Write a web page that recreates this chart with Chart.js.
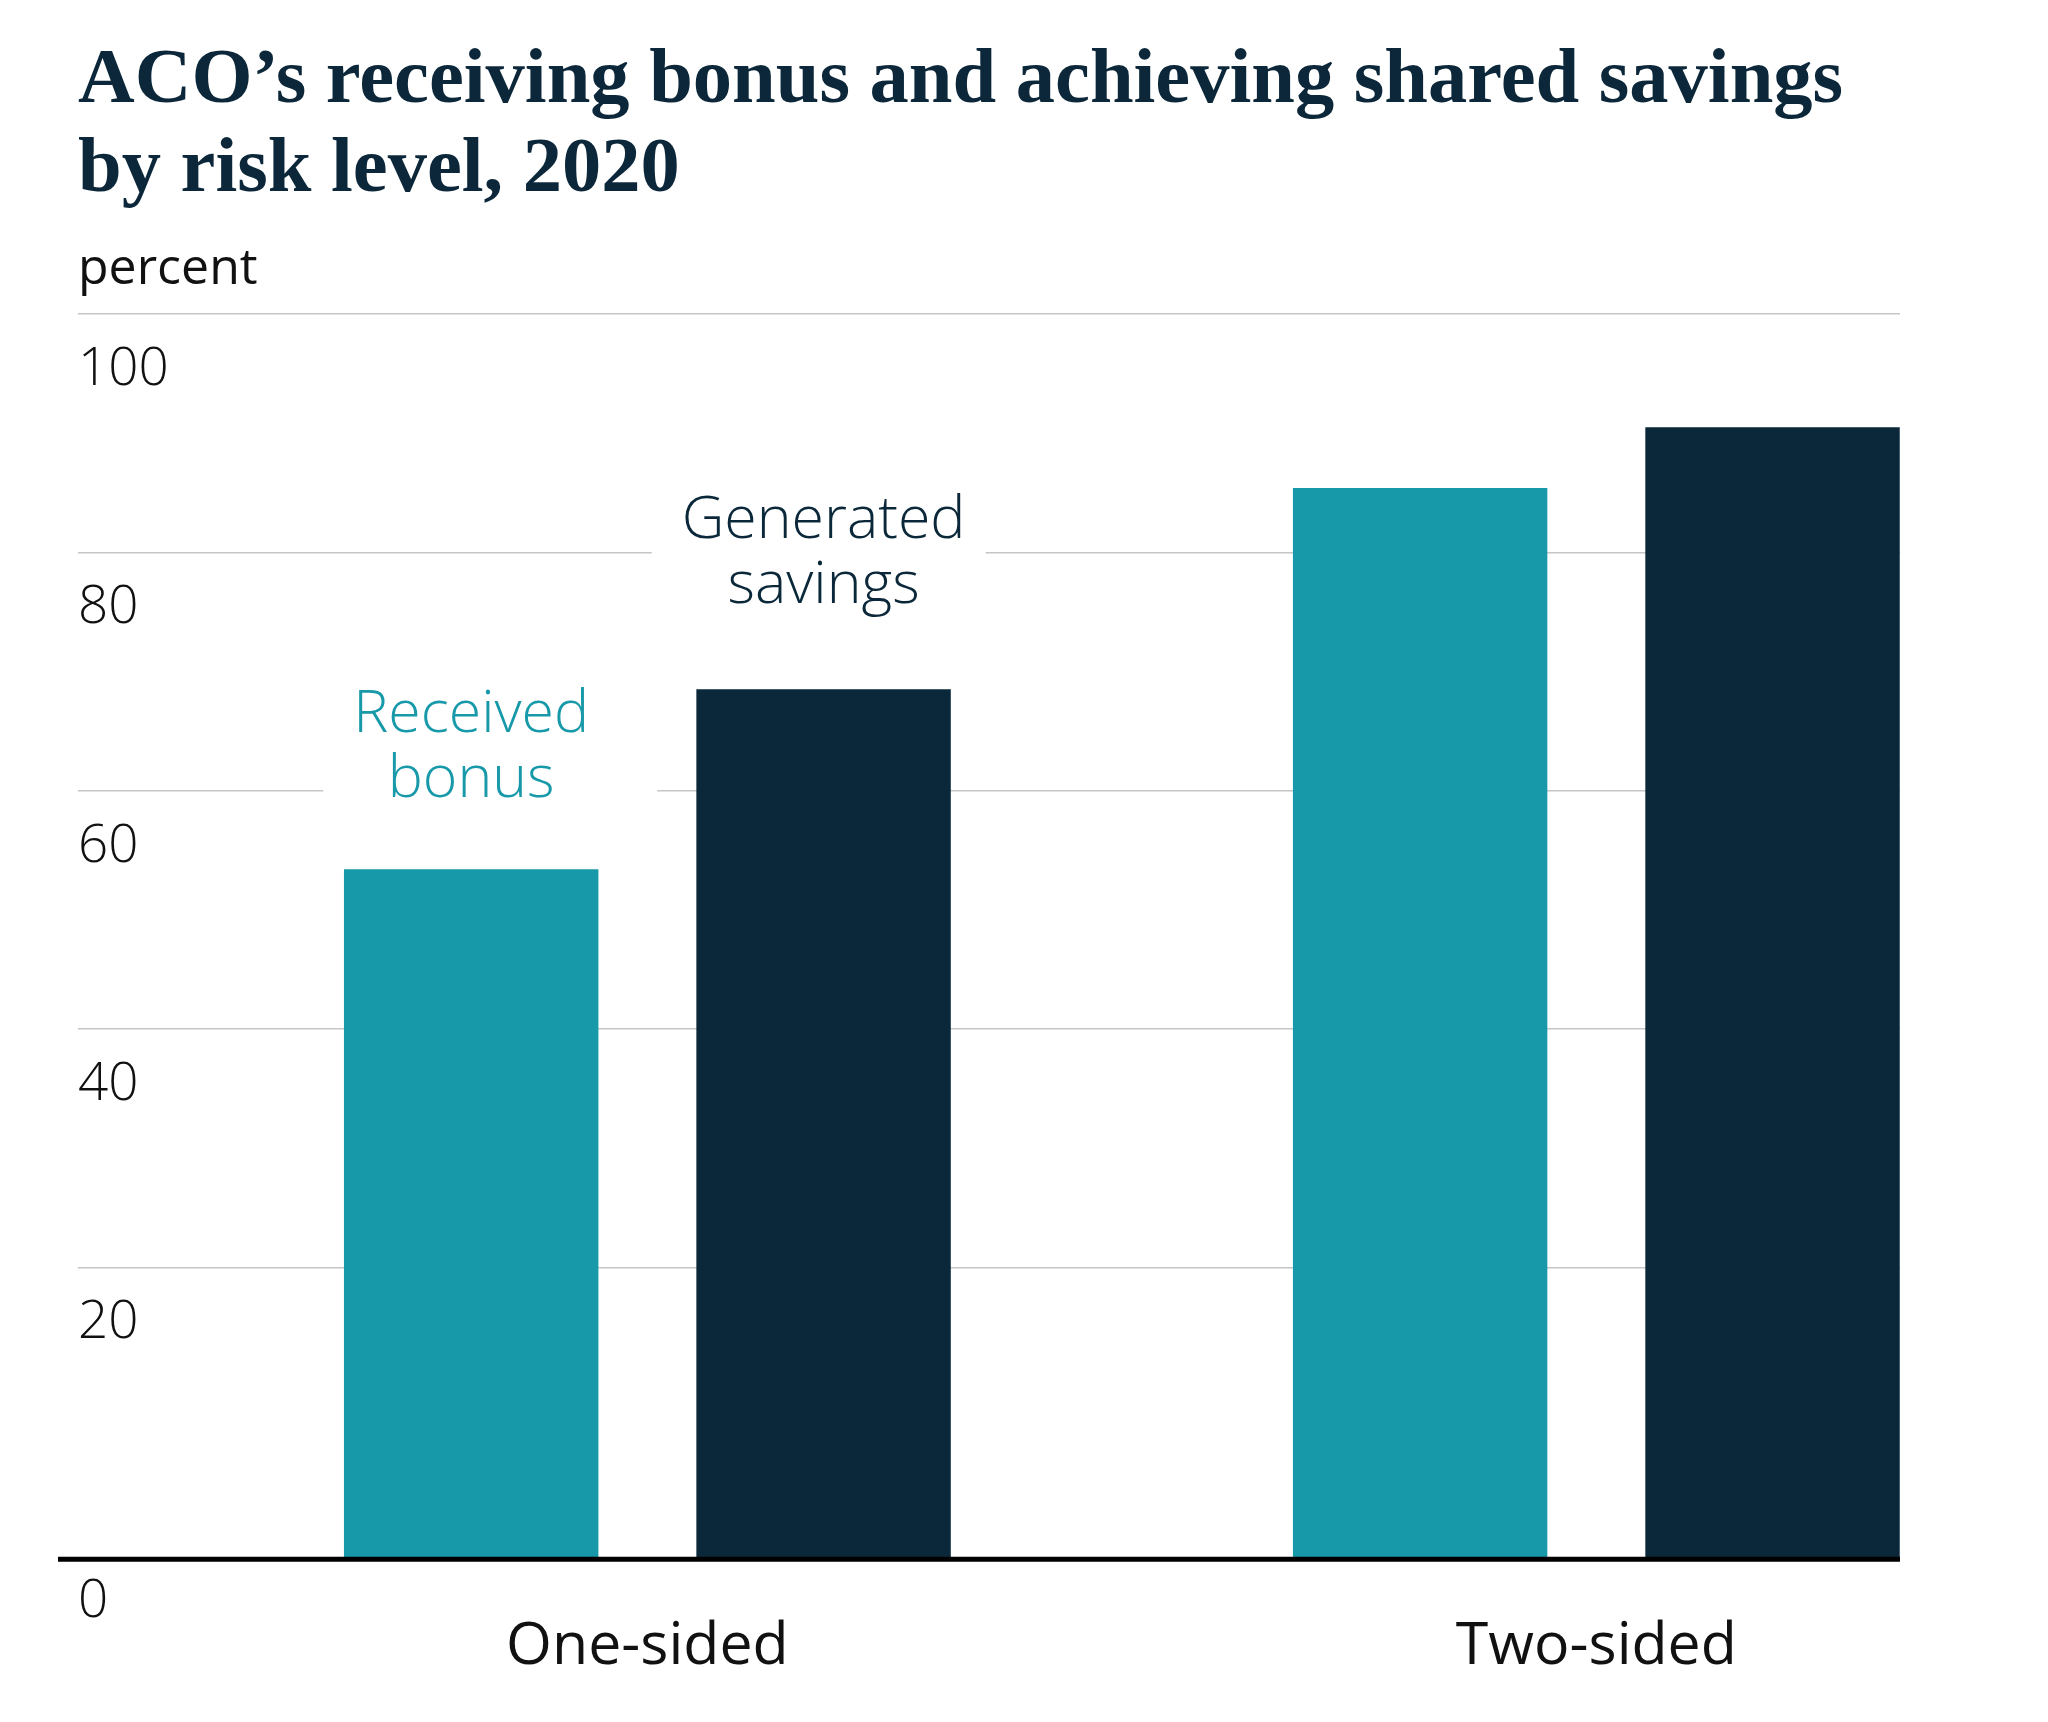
<!DOCTYPE html>
<html><head><meta charset="utf-8">
<script src="https://cdn.jsdelivr.net/npm/chart.js@4"></script>
<style>html,body{margin:0;padding:0;background:#fff}</style>
</head><body>
<canvas id="c" width="2048" height="1722"></canvas>
<script>
// ---- data ----
const categories = ['One-sided', 'Two-sided'];
const seriesNames = ['Received bonus', 'Generated savings'];
const receivedBonus = [53.4, 85.4];
const generatedSavings = [68.5, 90.5];
const yTickValues = [0, 20, 40, 60, 80, 100];
const seriesLabelLines = [['Received', 'bonus'], ['Generated', 'savings']];
const titleLines = ['ACO\u2019s receiving bonus and achieving shared savings', 'by risk level, 2020'];
const yUnitLabel = 'percent';

// ---- style ----
const TEAL = '#1799a9';
const NAVY = '#0a2839';
const Y_MIN = -4.5;          // baseline sits slightly below the 0 grid position
const ZERO_LABEL_AT = -3.41; // where the "0" tick label is anchored
const SANS = '"Open Sans", "Noto Sans", sans-serif';
const ANN_FONT = '300 59px ' + SANS;
const ANN_GAPS = [72, 86], ANN_STEP = 65, ANN_COLORS = [TEAL, NAVY];

function annGeom(chart, di) {
  const bar = chart.getDatasetMeta(di).data[0];
  return { cx: bar.x, lastBase: bar.y - ANN_GAPS[di] };
}

const decor = {
  id: 'decor',
  beforeDatasetsDraw(chart) {
    const ctx = chart.ctx;
    seriesLabelLines.forEach((lines, di) => {
      const g = annGeom(chart, di);
      ctx.save();
      ctx.font = ANN_FONT;
      const w = Math.max(...lines.map(l => ctx.measureText(l).width));
      const top = g.lastBase - (lines.length - 1) * ANN_STEP - 50;
      ctx.fillStyle = '#ffffff';
      ctx.fillRect(g.cx - w / 2 - 30, top, 334, (lines.length - 1) * ANN_STEP + 72);
      ctx.restore();
    });
  },
  afterDatasetsDraw(chart) {
    const ctx = chart.ctx, area = chart.chartArea;
    seriesLabelLines.forEach((lines, di) => {
      const g = annGeom(chart, di);
      ctx.save();
      ctx.font = ANN_FONT;
      ctx.fillStyle = ANN_COLORS[di];
      ctx.textAlign = 'center';
      ctx.textBaseline = 'alphabetic';
      lines.forEach((l, li) => ctx.fillText(l, g.cx, g.lastBase - (lines.length - 1 - li) * ANN_STEP));
      ctx.restore();
    });
    const y = chart.scales.y.getPixelForValue(Y_MIN);
    ctx.save();
    ctx.strokeStyle = '#000000';
    ctx.lineWidth = 5;
    ctx.beginPath();
    ctx.moveTo(area.left - 20, y);
    ctx.lineTo(area.right, y);
    ctx.stroke();
    ctx.restore();
  }
};

new Chart(document.getElementById('c'), {
  type: 'bar',
  data: {
    datasets: [
      { label: seriesNames[0], data: receivedBonus.map((v, i) => ({ x: i, y: v })), backgroundColor: TEAL, base: Y_MIN },
      { label: seriesNames[1], data: generatedSavings.map((v, i) => ({ x: i, y: v })), backgroundColor: NAVY, base: Y_MIN }
    ]
  },
  options: {
    responsive: false,
    animation: false,
    devicePixelRatio: 1,
    categoryPercentage: 0.7427,
    barPercentage: 0.722,
    layout: { padding: { left: 78, right: 148, top: 0, bottom: -13 } },
    plugins: {
      legend: { display: false },
      tooltip: { enabled: false },
      title: {
        display: true, text: titleLines, align: 'start', color: '#0b2739',
        font: { family: '"Liberation Serif", "DejaVu Serif", serif', size: 78.5, weight: 'bold', lineHeight: '89px' },
        padding: { top: 37.5, bottom: 0 }
      },
      subtitle: {
        display: true, text: yUnitLabel, align: 'start', color: '#111111',
        font: { family: SANS, size: 50, weight: 400, lineHeight: 1.2 },
        padding: { top: 24.5, bottom: 14 }
      }
    },
    scales: {
      x: {
        type: 'linear', min: -0.6, max: 1.32, offset: false,
        afterBuildTicks: s => { s.ticks = categories.map((c, i) => ({ value: i })); },
        ticks: { callback: (v, i) => categories[i], color: '#111111', padding: 52.5,
                 font: { family: SANS, size: 59, weight: 400, lineHeight: 1.2 }, maxRotation: 0 },
        grid: { display: false, drawTicks: false, offset: false },
        border: { display: false }
      },
      y: {
        type: 'linear', min: Y_MIN, max: 100,
        afterBuildTicks: s => { s.ticks = yTickValues.map(v => ({ value: v === 0 ? ZERO_LABEL_AT : v })); },
        ticks: { mirror: true, padding: 0, labelOffset: 56, color: '#111111',
                 callback: (v, i) => String(yTickValues[i]),
                 font: { family: SANS, size: 53, weight: 300, lineHeight: 1.2 } },
        grid: { drawTicks: false, lineWidth: 1.5,
                color: c => (c.index === 0 ? 'rgba(0,0,0,0)' : '#c6c6c6') },
        border: { display: false }
      }
    }
  },
  plugins: [decor]
});
</script>
</body></html>
